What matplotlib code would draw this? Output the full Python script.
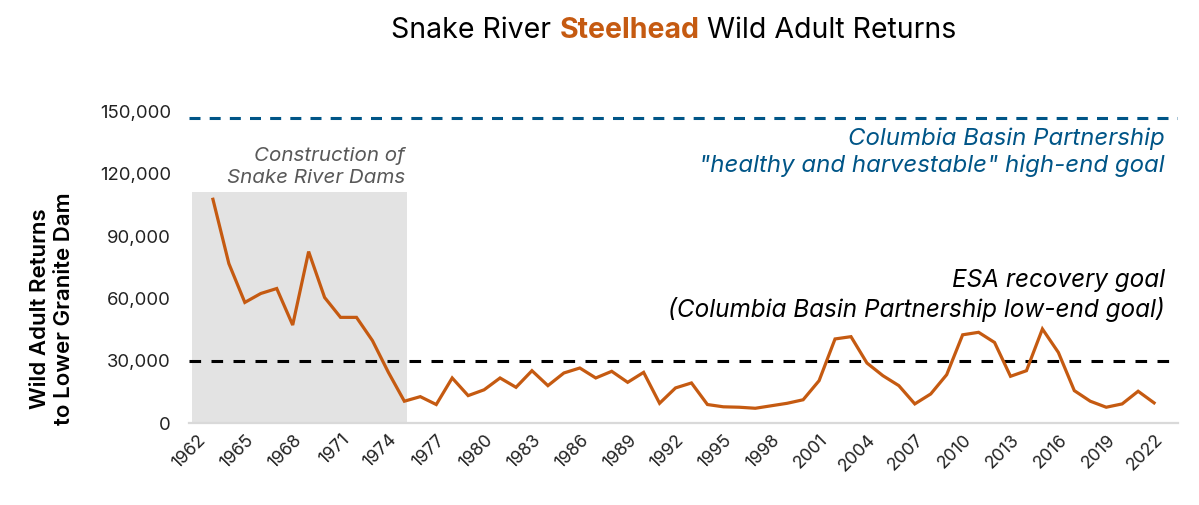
import matplotlib
matplotlib.use("Agg")
import matplotlib.pyplot as plt
from matplotlib.patches import Rectangle
from matplotlib.ticker import FuncFormatter

plt.rcParams['font.family'] = ['Inter', 'DejaVu Sans']

# wild adult steelhead returns to Lower Granite Dam
years = list(range(1963, 2023))
returns = [107800, 76800, 58100, 62400, 64800, 47200, 82600, 60500, 50900, 50900,
           39700, 24400, 10500, 12700, 8900, 21700, 13200, 16000, 21700, 17200,
           25200, 18000, 24100, 26500, 21700, 24900, 19600, 24400, 9500, 16900,
           19300, 8900, 7800, 7600, 7100, 8300, 9500, 11200, 20400, 40500,
           41600, 28900, 22800, 18000, 9200, 14000, 23300, 42500, 43700, 38800,
           22500, 25200, 45300, 34000, 15600, 10500, 7600, 9200, 15300, 9700]
tick_years = list(range(1962, 2023, 3))

high_goal = 147000   # CBP "healthy and harvestable" high-end goal
esa_goal = 30000     # ESA recovery goal
dam_years = (1961.7, 1975.15)  # construction period shading
dam_top = 111500

ORANGE = '#C55A11'
BLUE = '#005587'
W, H = 1199, 505

fig = plt.figure(figsize=(W / 100, H / 100), dpi=100)
ax = fig.add_axes([189 / W, 1 - 423 / H, (1178 - 189) / W, (423 - 111.7) / H])


def px(x, y):
    return x / W, 1 - y / H


ax.add_patch(Rectangle((dam_years[0], 0), dam_years[1] - dam_years[0], dam_top,
                       facecolor='#E3E3E3', edgecolor='none', zorder=0))
ax.axhline(high_goal, color=BLUE, lw=2.2, dashes=(3.6, 3.0), zorder=2)
ax.axhline(esa_goal, color='black', lw=2.2, dashes=(3.8, 3.4), zorder=2)
ax.plot(years, returns, color=ORANGE, lw=2.3, zorder=3, solid_joinstyle='miter')

ax.set_xlim(1961.5, 2023.5)
ax.set_ylim(0, 150000)
ax.set_yticks(range(0, 150001, 30000))
ax.yaxis.set_major_formatter(FuncFormatter(lambda v, p: f'{int(v):,}'))
ax.set_xticks(tick_years)
ax.set_xticklabels([str(y) for y in tick_years], rotation=45, ha='right', va='top',
                   rotation_mode='anchor')
ax.tick_params(axis='y', length=0, pad=13, labelsize=13.3, labelcolor='#222222')
ax.tick_params(axis='x', length=0, pad=6, labelsize=12.8, labelcolor='#222222')
for s in ['left', 'top', 'right']:
    ax.spines[s].set_visible(False)
ax.spines['bottom'].set_color('#D9D9D9')
ax.spines['bottom'].set_linewidth(1.6)

fig.text(*px(52, 309), 'Wild Adult Returns\nto Lower Granite Dam', rotation=90,
         ha='center', va='center', fontsize=16, fontweight='semibold', linespacing=1.2)

fig.text(*px(405, 167), 'Construction of\nSnake River Dams', ha='right', va='center',
         fontsize=14.8, style='italic', color='#595959', linespacing=1.25)
fig.text(*px(1165, 152), 'Columbia Basin Partnership\n"healthy and harvestable" high-end goal',
         ha='right', va='center', fontsize=17.3, style='italic', color=BLUE, linespacing=1.25)
fig.text(*px(1165, 296), 'ESA recovery goal\n(Columbia Basin Partnership low-end goal)',
         ha='right', va='center', fontsize=17.5, style='italic', color='black', linespacing=1.25)

# title with the species name coloured
parts = [('Snake River ', 'black', 'normal'), ('Steelhead', ORANGE, 'bold'),
         (' Wild Adult Returns', 'black', 'normal')]
renderer = fig.canvas.get_renderer()
texts = []
for s, c, w in parts:
    t = fig.text(0, 1 - 30 / H, s, color=c, fontweight=w, fontsize=20.5, va='center', ha='left')
    texts.append(t)
widths = [t.get_window_extent(renderer).width for t in texts]
x = 674 - sum(widths) / 2
for t, w in zip(texts, widths):
    t.set_x(x / W)
    x += w

fig.savefig('out.png', dpi=100)
